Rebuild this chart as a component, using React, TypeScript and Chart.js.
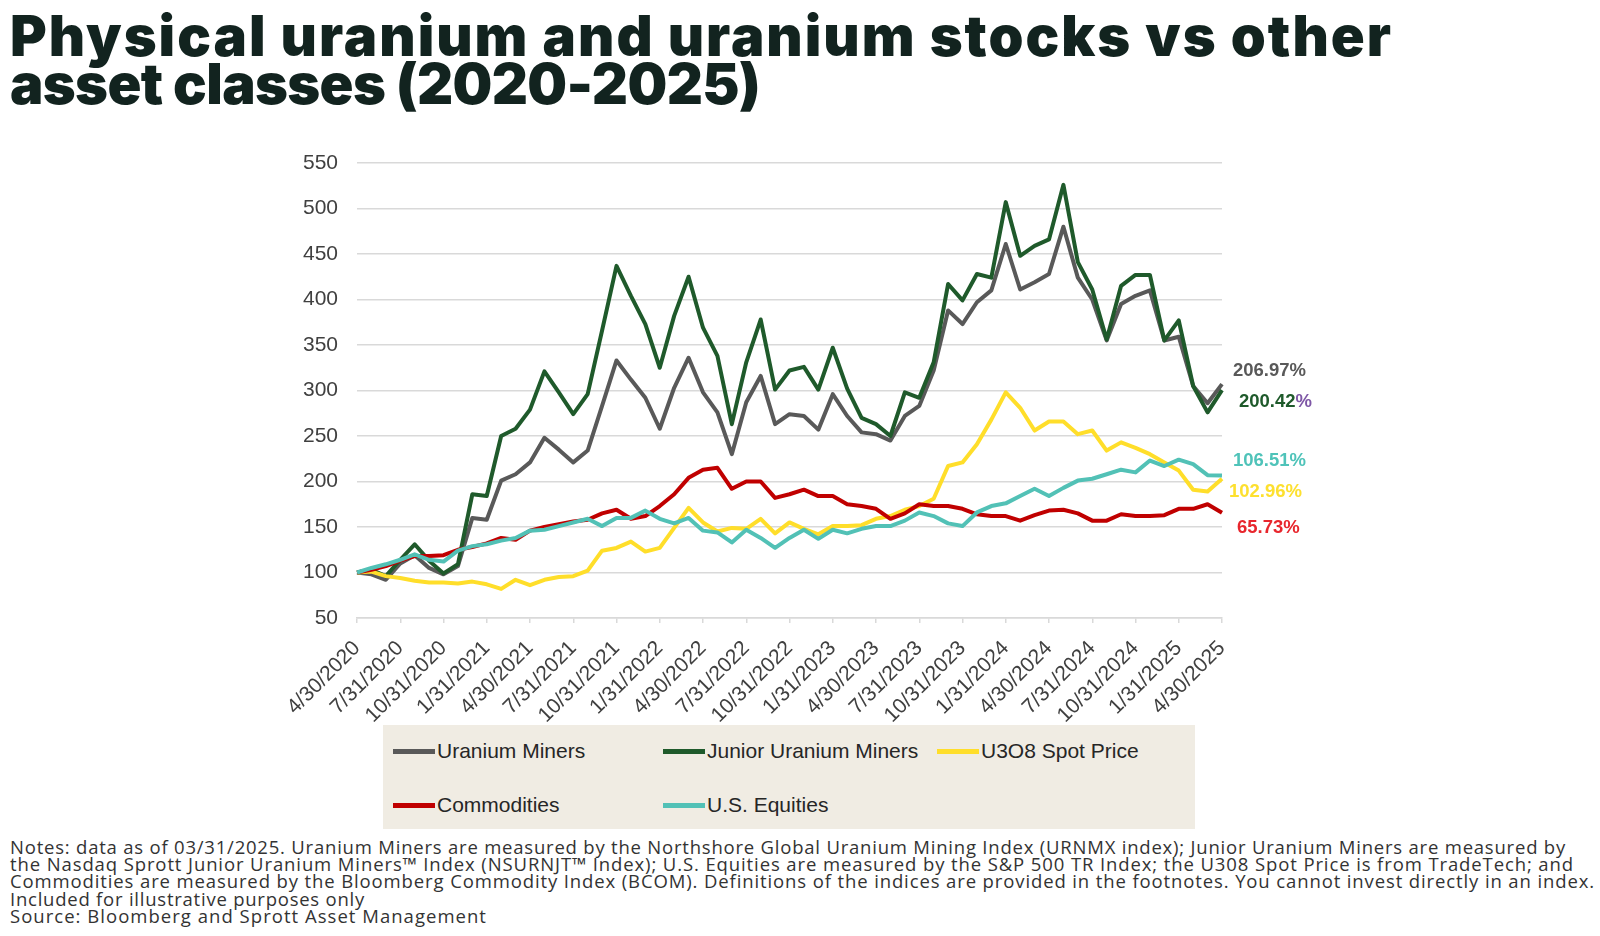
import React, { useEffect, useLayoutEffect, useRef } from "react";
import { Chart, registerables } from "chart.js";
Chart.register(...registerables);

// ---------- DATA ----------
const dates = [
  "4/30/2020","5/31/2020","6/30/2020","7/31/2020","8/31/2020","9/30/2020","10/31/2020","11/30/2020","12/31/2020",
  "1/31/2021","2/28/2021","3/31/2021","4/30/2021","5/31/2021","6/30/2021","7/31/2021","8/31/2021","9/30/2021","10/31/2021","11/30/2021","12/31/2021",
  "1/31/2022","2/28/2022","3/31/2022","4/30/2022","5/31/2022","6/30/2022","7/31/2022","8/31/2022","9/30/2022","10/31/2022","11/30/2022","12/31/2022",
  "1/31/2023","2/28/2023","3/31/2023","4/30/2023","5/31/2023","6/30/2023","7/31/2023","8/31/2023","9/30/2023","10/31/2023","11/30/2023","12/31/2023",
  "1/31/2024","2/29/2024","3/31/2024","4/30/2024","5/31/2024","6/30/2024","7/31/2024","8/31/2024","9/30/2024","10/31/2024","11/30/2024","12/31/2024",
  "1/31/2025","2/28/2025","3/31/2025","4/30/2025",
];

const uraniumMiners = [
  100, 98, 92, 110, 119, 105, 98, 107, 160, 158,
  201, 208, 221, 248, 235, 221, 234, 283, 333, 312,
  292, 258, 303, 336, 298, 276, 230, 287, 316, 263,
  274, 272, 257, 296, 272, 254, 252, 245, 272, 283,
  322, 388, 373, 397, 410, 461, 411, 419, 428, 480,
  424, 400, 355, 395, 404, 410, 355, 359, 305, 286,
  306.97,
];

const juniorUraniumMiners = [
  100, 103, 96, 114, 131, 113, 99, 109, 186, 184,
  250, 258, 279, 321, 298, 274, 296, 366, 437, 404,
  373, 325, 382, 425, 369, 338, 263, 331, 378, 301,
  322, 326, 301, 347, 302, 270, 263, 250, 298, 292,
  331, 417, 399, 428, 424, 507, 448, 459, 466, 526,
  441, 411, 356, 415, 427, 427, 355, 377, 305, 276,
  300.42,
];

const u3o8SpotPrice = [
  100, 101, 96, 94, 91, 89, 89, 88, 90, 87,
  82, 92, 86, 92, 95, 96, 102, 124, 127, 134,
  123, 127, 149, 171, 155, 145, 149, 148, 159, 143,
  155, 148, 142, 151, 151, 152, 159, 162, 169, 173,
  181, 217, 221, 241, 268, 298, 281, 256, 266, 266,
  252, 256, 234, 243, 237, 230, 221, 212, 191, 189,
  202.96,
];

const commodities = [
  100, 103, 107, 113, 118, 118, 119, 125, 128, 132,
  138, 136, 146, 150, 153, 156, 158, 165, 169, 159,
  162, 173, 186, 204, 213, 215, 192, 200, 200, 182,
  186, 191, 184, 184, 175, 173, 170, 159, 165, 175,
  173, 173, 170, 164, 162, 162, 157, 163, 168, 169,
  165, 157, 157, 164, 162, 162, 163, 170, 170, 175,
  165.73,
];

const usEquities = [
  100, 105, 109, 114, 120, 114, 112, 124, 129, 131,
  135, 138, 146, 147, 151, 155, 159, 151, 160, 160,
  168, 159, 154, 160, 146, 144, 133, 147, 138, 127,
  138, 147, 137, 147, 143, 148, 151, 151, 157, 166,
  162, 154, 151, 166, 173, 176, 184, 192, 184, 193,
  201, 203, 208, 213, 210, 223, 217, 224, 219, 207,
  206.51,
];

const seriesNames = ["Uranium Miners", "Junior Uranium Miners", "U3O8 Spot Price", "Commodities", "U.S. Equities"];
const seriesValues = [uraniumMiners, juniorUraniumMiners, u3o8SpotPrice, commodities, usEquities];
const endLabelTexts = ["206.97", "200.42", "102.96", "65.73", "106.51"];

const yMin = 50;
const yMax = 550;
const yStep = 50;

// ---------- STYLES / LAYOUT ----------
const lineColors = ["#595959", "#1f5a2b", "#ffde2a", "#c00000", "#52c1b6"];
const labelColors = ["#595959", "#1f5a2b", "#fde02f", "#e8262d", "#4fc3b9"];
const percentColors = ["#595959", "#7e57a6", "#fde02f", "#e8262d", "#4fc3b9"];
const labelOffsets = [
  [11, -13],
  [17, 12],
  [7, 13],
  [15, 15],
  [11, -15],
];
const drawOrder = [5, 4, 3, 2, 1];

// target plot area on the page
const PLOT_LEFT = 357;
const PLOT_RIGHT = 1222;
const PLOT_TOP = 163;
const PLOT_BOTTOM = 618;
const X_AXIS_H = 122;
const PAD_TOP = 40;
const CANVAS_H = PAD_TOP + (PLOT_BOTTOM - PLOT_TOP) + X_AXIS_H;

const notesLines = [
  "Notes: data as of 03/31/2025. Uranium Miners are measured by the Northshore Global Uranium Mining Index (URNMX index); Junior Uranium Miners are measured by",
  "the Nasdaq Sprott Junior Uranium Miners\u2122 Index (NSURNJT\u2122 Index); U.S. Equities are measured by the S&P 500 TR Index; the U308 Spot Price is from TradeTech; and",
  "Commodities are measured by the Bloomberg Commodity Index (BCOM). Definitions of the indices are provided in the footnotes. You cannot invest directly in an index.",
  "Included for illustrative purposes only",
  "Source: Bloomberg and Sprott Asset Management",
];
const notesWidths = [1556, 1564, 1585, 355, 477];

const titleLines = ["Physical uranium and uranium stocks vs other", "asset classes (2020-2025)"];
const titleWidths = [1383, 750];

const ARIAL = '"Liberation Sans", Arial, Helvetica, sans-serif';

function FitLine({ text, width, style }: { text: string; width: number; style: React.CSSProperties }) {
  const ref = useRef<HTMLSpanElement>(null);
  useLayoutEffect(() => {
    const el = ref.current;
    if (!el) return;
    el.style.letterSpacing = "0px";
    const w = el.getBoundingClientRect().width;
    el.style.letterSpacing = (width - w) / text.length + "px";
  }, [text, width]);
  return (
    <div style={{ whiteSpace: "nowrap", ...style }}>
      <span ref={ref} style={{ display: "inline-block" }}>{text}</span>
    </div>
  );
}

const endLabelPlugin = {
  id: "endLabels",
  afterDatasetsDraw(chart: any) {
    const ctx = chart.ctx;
    ctx.save();
    ctx.font = `bold 18.5px ${ARIAL}`;
    ctx.textBaseline = "middle";
    ctx.textAlign = "left";
    chart.data.datasets.forEach((_ds: any, i: number) => {
      const meta = chart.getDatasetMeta(i);
      const pt = meta.data[meta.data.length - 1];
      if (!pt) return;
      const x = pt.x + labelOffsets[i][0];
      const y = pt.y + labelOffsets[i][1];
      const num = endLabelTexts[i];
      ctx.fillStyle = labelColors[i];
      ctx.fillText(num, x, y);
      const w = ctx.measureText(num).width;
      ctx.fillStyle = percentColors[i];
      ctx.fillText("%", x + w, y);
    });
    ctx.restore();
  },
};

function LineChart() {
  const canvasRef = useRef<HTMLCanvasElement>(null);
  const wrapRef = useRef<HTMLDivElement>(null);
  useEffect(() => {
    if (!canvasRef.current) return;
    const chart = new Chart(canvasRef.current, {
      type: "line",
      data: {
        labels: dates,
        datasets: seriesValues.map((vals, i) => ({
          label: seriesNames[i],
          data: vals,
          borderColor: lineColors[i],
          backgroundColor: lineColors[i],
          borderWidth: 4,
          pointRadius: 0,
          tension: 0,
          fill: false,
          order: drawOrder[i],
          borderJoinStyle: "round" as const,
        })),
      },
      options: {
        animation: false,
        responsive: false,
        maintainAspectRatio: false,
        layout: { padding: { left: 0, right: 1600 - PLOT_RIGHT, top: PAD_TOP, bottom: 0 } },
        plugins: { legend: { display: false }, tooltip: { enabled: false } },
        scales: {
          x: {
            type: "category",
            offset: false,
            grid: { display: true, drawOnChartArea: false, drawTicks: true, tickLength: 5, color: "#d9d9d9", lineWidth: 1.5 },
            border: { display: true, color: "#d9d9d9", width: 1.5 },
            ticks: {
              autoSkip: false,
              maxRotation: 45,
              minRotation: 45,
              color: "#404040",
              padding: 13,
              font: { family: ARIAL, size: 21 },
              callback: (_v: any, i: number) => (i % 3 === 0 ? dates[i] : null),
            },
            afterFit: (s: any) => {
              s.height = X_AXIS_H;
            },
          },
          y: {
            min: yMin,
            max: yMax,
            ticks: { stepSize: yStep, color: "#404040", padding: 19, font: { family: ARIAL, size: 21 } },
            grid: { color: "#d9d9d9", lineWidth: 1.5, drawTicks: false },
            border: { display: false },
            afterFit: (s: any) => {
              s.width = PLOT_LEFT;
            },
          },
        },
      },
      plugins: [endLabelPlugin],
    });
    // place the canvas so the plot area lands on the target rectangle
    const ca = chart.chartArea;
    if (wrapRef.current && ca) {
      wrapRef.current.style.top = PLOT_TOP - ca.top + "px";
    }
    return () => chart.destroy();
  }, []);
  return (
    <div ref={wrapRef} style={{ position: "absolute", left: 0, top: PLOT_TOP - PAD_TOP }}>
      <canvas ref={canvasRef} width={1600} height={CANVAS_H} style={{ display: "block" }} />
    </div>
  );
}

const legendCols = [393, 663, 937];
const legendRows = [751, 805];

export default function App() {
  return (
    <div style={{ position: "absolute", left: 0, top: 0, width: 1600, height: 936, background: "#fff", overflow: "hidden" }}>
      {titleLines.map((t, i) => (
        <FitLine
          key={t}
          text={t}
          width={titleWidths[i]}
          style={{
            position: "absolute",
            left: 10,
            top: 12 + i * 48,
            height: 48,
            lineHeight: "48px",
            fontFamily: "Inter, Lato, sans-serif",
            fontWeight: 900,
            fontSize: 56,
            color: "#12231f",
          }}
        />
      ))}
      <LineChart />
      <div style={{ position: "absolute", left: 383, top: 725, width: 812, height: 104, background: "#f0ece3" }} />
      {seriesNames.map((n, i) => {
        const col = i < 3 ? i : i - 3;
        const row = i < 3 ? 0 : 1;
        return (
          <div
            key={n}
            style={{
              position: "absolute",
              left: legendCols[col],
              top: legendRows[row] - 15,
              height: 30,
              display: "flex",
              alignItems: "center",
              whiteSpace: "nowrap",
            }}
          >
            <div style={{ width: 42, height: 5, background: lineColors[i], marginRight: 2 }} />
            <span style={{ fontFamily: ARIAL, fontSize: 21, color: "#262626" }}>{n}</span>
          </div>
        );
      })}
      {notesLines.map((t, i) => (
        <FitLine
          key={i}
          text={t}
          width={notesWidths[i]}
          style={{
            position: "absolute",
            left: 10,
            top: 838 + i * 17.2,
            height: 17.2,
            lineHeight: "17.2px",
            fontFamily: '"Open Sans", sans-serif',
            fontSize: 18.5,
            color: "#333333",
          }}
        />
      ))}
    </div>
  );
}
